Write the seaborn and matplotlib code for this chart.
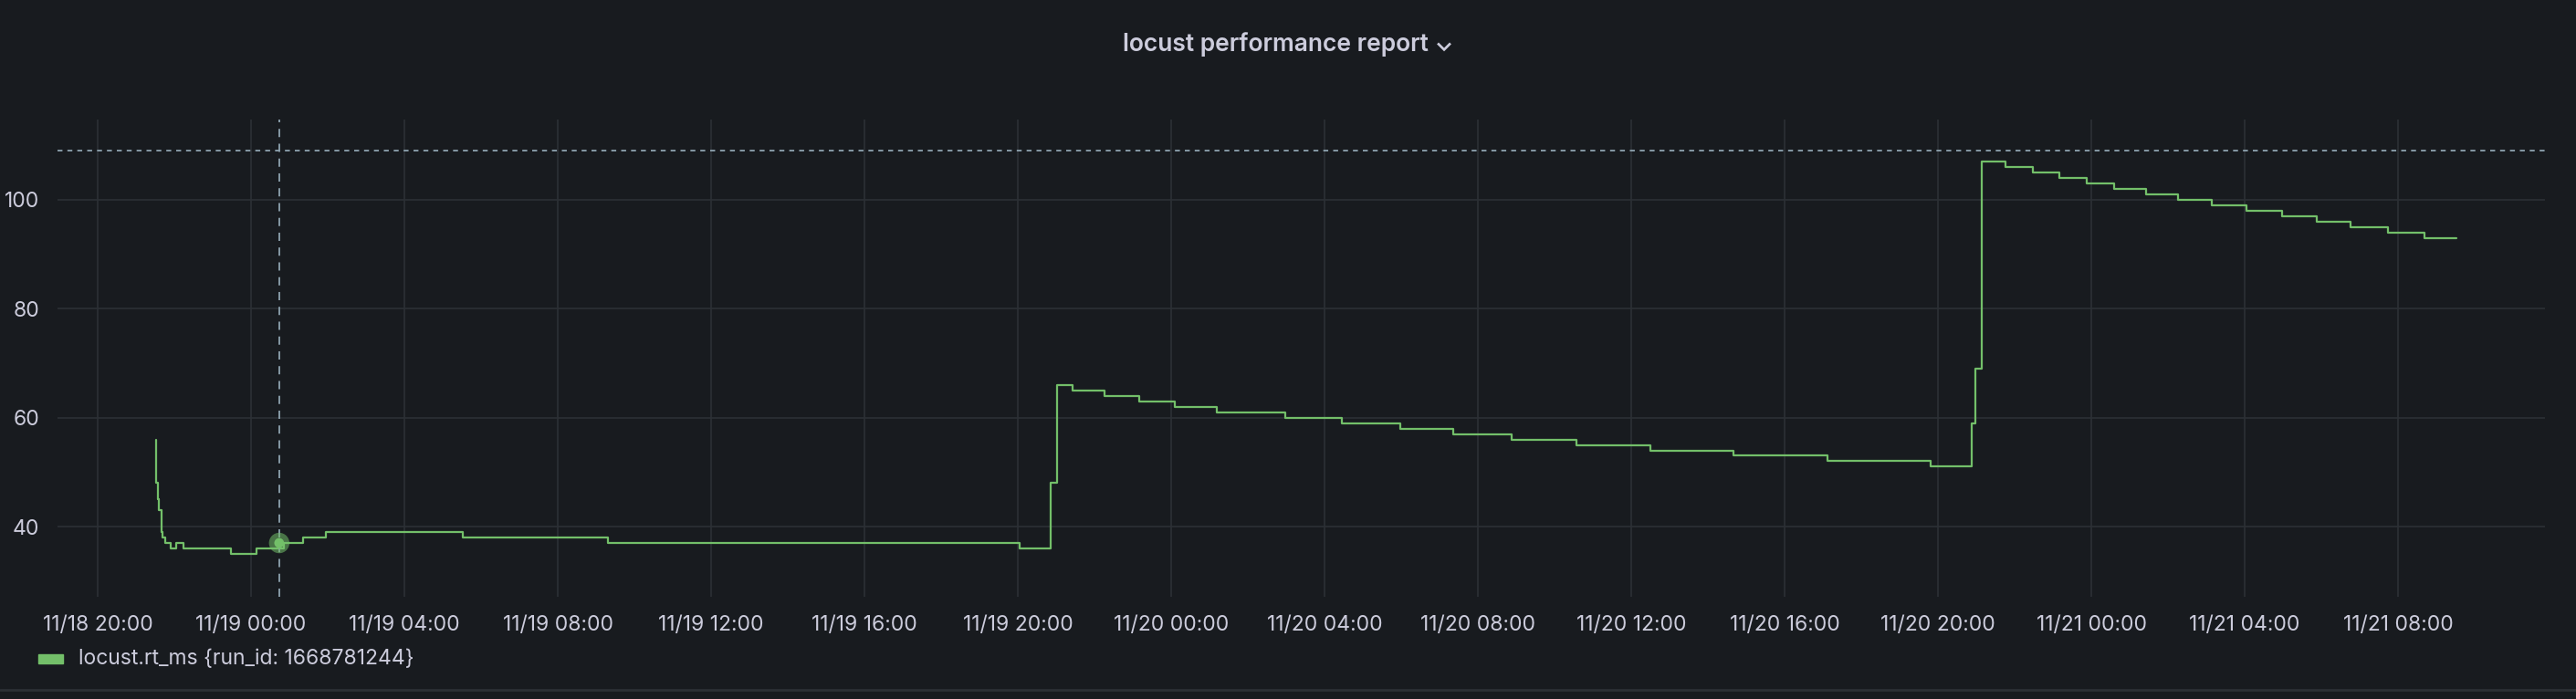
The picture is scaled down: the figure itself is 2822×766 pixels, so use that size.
import pandas as pd
import numpy as np
import matplotlib
matplotlib.use("Agg")
import matplotlib.pyplot as plt
import matplotlib.dates as mdates
import seaborn as sns

# step start times and response time values (ms)
times = [
    "2022-11-18 21:31", "2022-11-18 21:32", "2022-11-18 21:34", "2022-11-18 21:36",
    "2022-11-18 21:40", "2022-11-18 21:42", "2022-11-18 21:46", "2022-11-18 21:54",
    "2022-11-18 22:03", "2022-11-18 22:14", "2022-11-18 23:28", "2022-11-19 00:09",
    "2022-11-19 00:51", "2022-11-19 01:21", "2022-11-19 01:57", "2022-11-19 05:32",
    "2022-11-19 09:18", "2022-11-19 20:03", "2022-11-19 20:52", "2022-11-19 21:01",
    "2022-11-19 21:25", "2022-11-19 22:16", "2022-11-19 23:10", "2022-11-20 00:05",
    "2022-11-20 01:12", "2022-11-20 02:59", "2022-11-20 04:27", "2022-11-20 05:59",
    "2022-11-20 07:22", "2022-11-20 08:53", "2022-11-20 10:34", "2022-11-20 12:30",
    "2022-11-20 14:40", "2022-11-20 17:07", "2022-11-20 19:49", "2022-11-20 20:53",
    "2022-11-20 20:58", "2022-11-20 21:08", "2022-11-20 21:45", "2022-11-20 22:29",
    "2022-11-20 23:10", "2022-11-20 23:52", "2022-11-21 00:36", "2022-11-21 01:25",
    "2022-11-21 02:16", "2022-11-21 03:08", "2022-11-21 04:02", "2022-11-21 04:58",
    "2022-11-21 05:52", "2022-11-21 06:46", "2022-11-21 07:44", "2022-11-21 08:41",
    "2022-11-21 09:31",
]
rt_ms = [
    56, 48, 45, 43, 39, 38, 37, 36, 37, 36, 35, 36, 37, 38, 39, 38, 37, 36, 48, 66,
    65, 64, 63, 62, 61, 60, 59, 58, 57, 56, 55, 54, 53, 52, 51, 59, 69, 107, 106, 105,
    104, 103, 102, 101, 100, 99, 98, 97, 96, 95, 94, 93, 93,
]
serie = "locust.rt_ms {run_id: 1668781244}"
limite = 109          # dashed threshold line
cursor_time = "2022-11-19 00:44"
cursor_val = 37

df = pd.DataFrame({"time": pd.to_datetime(times), "rt_ms": rt_ms})

bg = "#181b1f"
txt = "#ccccdc"
verde = "#73bf69"

sns.set_theme(style="dark")
plt.rcParams["font.family"] = ["Inter", "DejaVu Sans"]

fig = plt.figure(figsize=(28.22, 7.66), dpi=100, facecolor=bg)
ax = fig.add_axes([0.0223, 0.146, 0.9657, 0.683])
ax.set_facecolor(bg)

sns.lineplot(data=df, x="time", y="rt_ms", ax=ax, color=verde, linewidth=1.6,
             drawstyle="steps-post", legend=False)

ax.axhline(limite, color="#8ea3b0", linestyle=(0, (3, 3)), linewidth=1.3)
ct = pd.to_datetime(cursor_time)
ax.axvline(ct, color="#8ea3b0", linestyle=(0, (5, 4)), linewidth=1.3)
ax.scatter([ct], [cursor_val], s=260, color=verde, alpha=0.55, zorder=5, edgecolors="none")
ax.scatter([ct], [cursor_val], s=60, color=verde, zorder=6, edgecolors="none")

ax.set_xlim(pd.to_datetime("2022-11-18 18:57"), pd.to_datetime("2022-11-21 11:50"))
ax.set_ylim(27.1, 114.7)
ax.set_yticks([40, 60, 80, 100])
ax.xaxis.set_major_locator(mdates.HourLocator(byhour=[0, 4, 8, 12, 16, 20]))
ax.xaxis.set_major_formatter(mdates.DateFormatter("%m/%d %H:%M"))
ax.set_xlabel("")
ax.set_ylabel("")
ax.grid(True, color="#2c3035", linewidth=1.2)
ax.tick_params(colors=txt, labelsize=16.5, length=0, pad=14)
for s in ax.spines.values():
    s.set_visible(False)

fig.text(0.5, 0.937, "locust performance report ⌄", ha="center", va="center",
         color=txt, fontsize=19, fontweight="semibold")

# legend
fig.patches.append(plt.Rectangle((42 / 2822, 1 - 727 / 766), 27 / 2822, 10 / 766,
                                 transform=fig.transFigure, color=verde, figure=fig))
fig.text(86 / 2822, 1 - 722 / 766, serie, ha="left", va="center", color=txt, fontsize=16.5)

fig.add_artist(plt.Line2D([0, 1], [1 - 756 / 766] * 2, color="#2c3035", linewidth=2))

fig.savefig("out.png", dpi=100, facecolor=bg)
